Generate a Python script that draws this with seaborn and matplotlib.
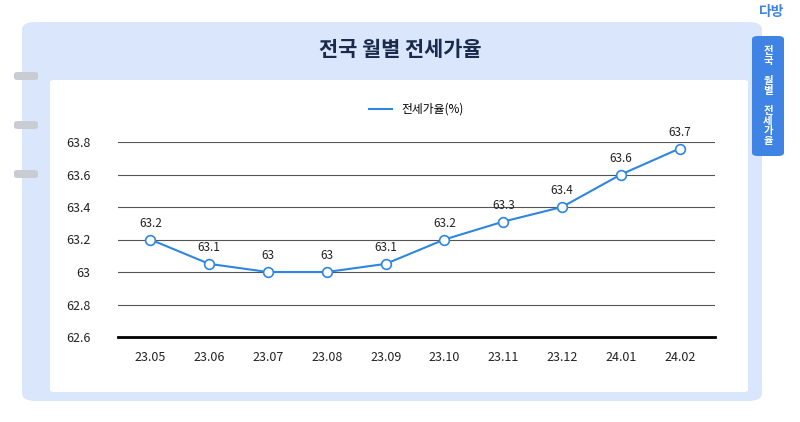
import matplotlib
matplotlib.use("Agg")
import matplotlib.pyplot as plt
from matplotlib import font_manager as fm
from matplotlib.lines import Line2D
import seaborn as sns
import pandas as pd
from matplotlib.patches import FancyBboxPatch

names = {f.name for f in fm.fontManager.ttflist}
cjk = [n for n in ["Noto Sans CJK KR", "Noto Sans CJK JP", "Noto Sans CJK SC", "Noto Sans KR"] if n in names]
plt.rcParams["font.family"] = cjk + ["DejaVu Sans"]

months = ["23.05", "23.06", "23.07", "23.08", "23.09", "23.10", "23.11", "23.12", "24.01", "24.02"]
values = [63.2, 63.05, 63.0, 63.0, 63.05, 63.2, 63.31, 63.4, 63.6, 63.76]
labels = ["63.2", "63.1", "63", "63", "63.1", "63.2", "63.3", "63.4", "63.6", "63.7"]
yticks = [62.6, 62.8, 63.0, 63.2, 63.4, 63.6, 63.8]
ytick_labels = ["62.6", "62.8", "63", "63.2", "63.4", "63.6", "63.8"]

df = pd.DataFrame({"x": range(len(months)), "v": values})

fig = plt.figure(figsize=(8, 4.22), dpi=100)
fig.patch.set_facecolor("white")
W, H = 800, 422
def box(x0, y0, x1, y1, fc, r):
    fig.patches.append(FancyBboxPatch((x0 / W, 1 - y1 / H), (x1 - x0) / W, (y1 - y0) / H,
                                      boxstyle=f"round,pad=0,rounding_size={r / W}",
                                      transform=fig.transFigure, fc=fc, ec="none", zorder=-5))
box(22, 22, 762, 401, "#d9e6fc", 14)
box(50, 80, 748, 392, "white", 4)
box(752, 36, 784, 156, "#3f84e5", 6)
for y in [76, 125, 174]:
    box(14, y - 4, 38, y + 4, "#c9ccd3", 4)

fig.text(0.5, 1 - 50 / H, "전국 월별 전세가율", ha="center", va="center", fontsize=15, fontweight="bold", color="#1b2a4a")
fig.text(768 / W, 1 - 96 / H, "전\n국\n\n월\n별\n\n전\n세\n가\n율", ha="center", va="center",
         fontsize=7.5, fontweight="bold", color="white", linespacing=1.0)
fig.text(772 / W, 1 - 12 / H, "다방", ha="center", va="center", fontsize=10, fontweight="bold", color="#3f84e5")

ax = fig.add_axes([118 / W, 1 - 337 / H, (715 - 118) / W, (337 - 142) / H])
ax.set_zorder(5)
ax.patch.set_visible(False)
sns.lineplot(data=df, x="x", y="v", ax=ax, color="#2f86e0", lw=1.5, marker="o",
             markersize=7, markerfacecolor="white", markeredgecolor="#2f86e0", markeredgewidth=1.2,
             zorder=3, legend=False)
for i, (v, t) in enumerate(zip(values, labels)):
    ax.text(i, v + 0.06, t, ha="center", va="bottom", fontsize=8.5, color="#222")
ax.set_xlim(-0.55, 9.6)
ax.set_ylim(62.6, 63.8)
ax.set_yticks(yticks)
ax.set_yticklabels(ytick_labels)
ax.set_xticks(range(len(months)))
ax.set_xticklabels(months)
ax.tick_params(length=0, labelsize=9, colors="#222")
ax.tick_params(axis="x", pad=10)
ax.tick_params(axis="y", pad=20)
for yv in yticks[1:]:
    ax.axhline(yv, color="#555", lw=0.8, zorder=1)
ax.axhline(62.6, color="black", lw=2, zorder=2, clip_on=False)
for s in ax.spines.values():
    s.set_visible(False)
ax.set_xlabel("")
ax.set_ylabel("")
ax.legend([Line2D([], [], color="#2f86e0", lw=1.5)], ["전세가율(%)"], loc="lower center",
          bbox_to_anchor=(0.5, 1.08), frameon=False, fontsize=8.5, handlelength=2)
fig.savefig("out.png", dpi=100)
